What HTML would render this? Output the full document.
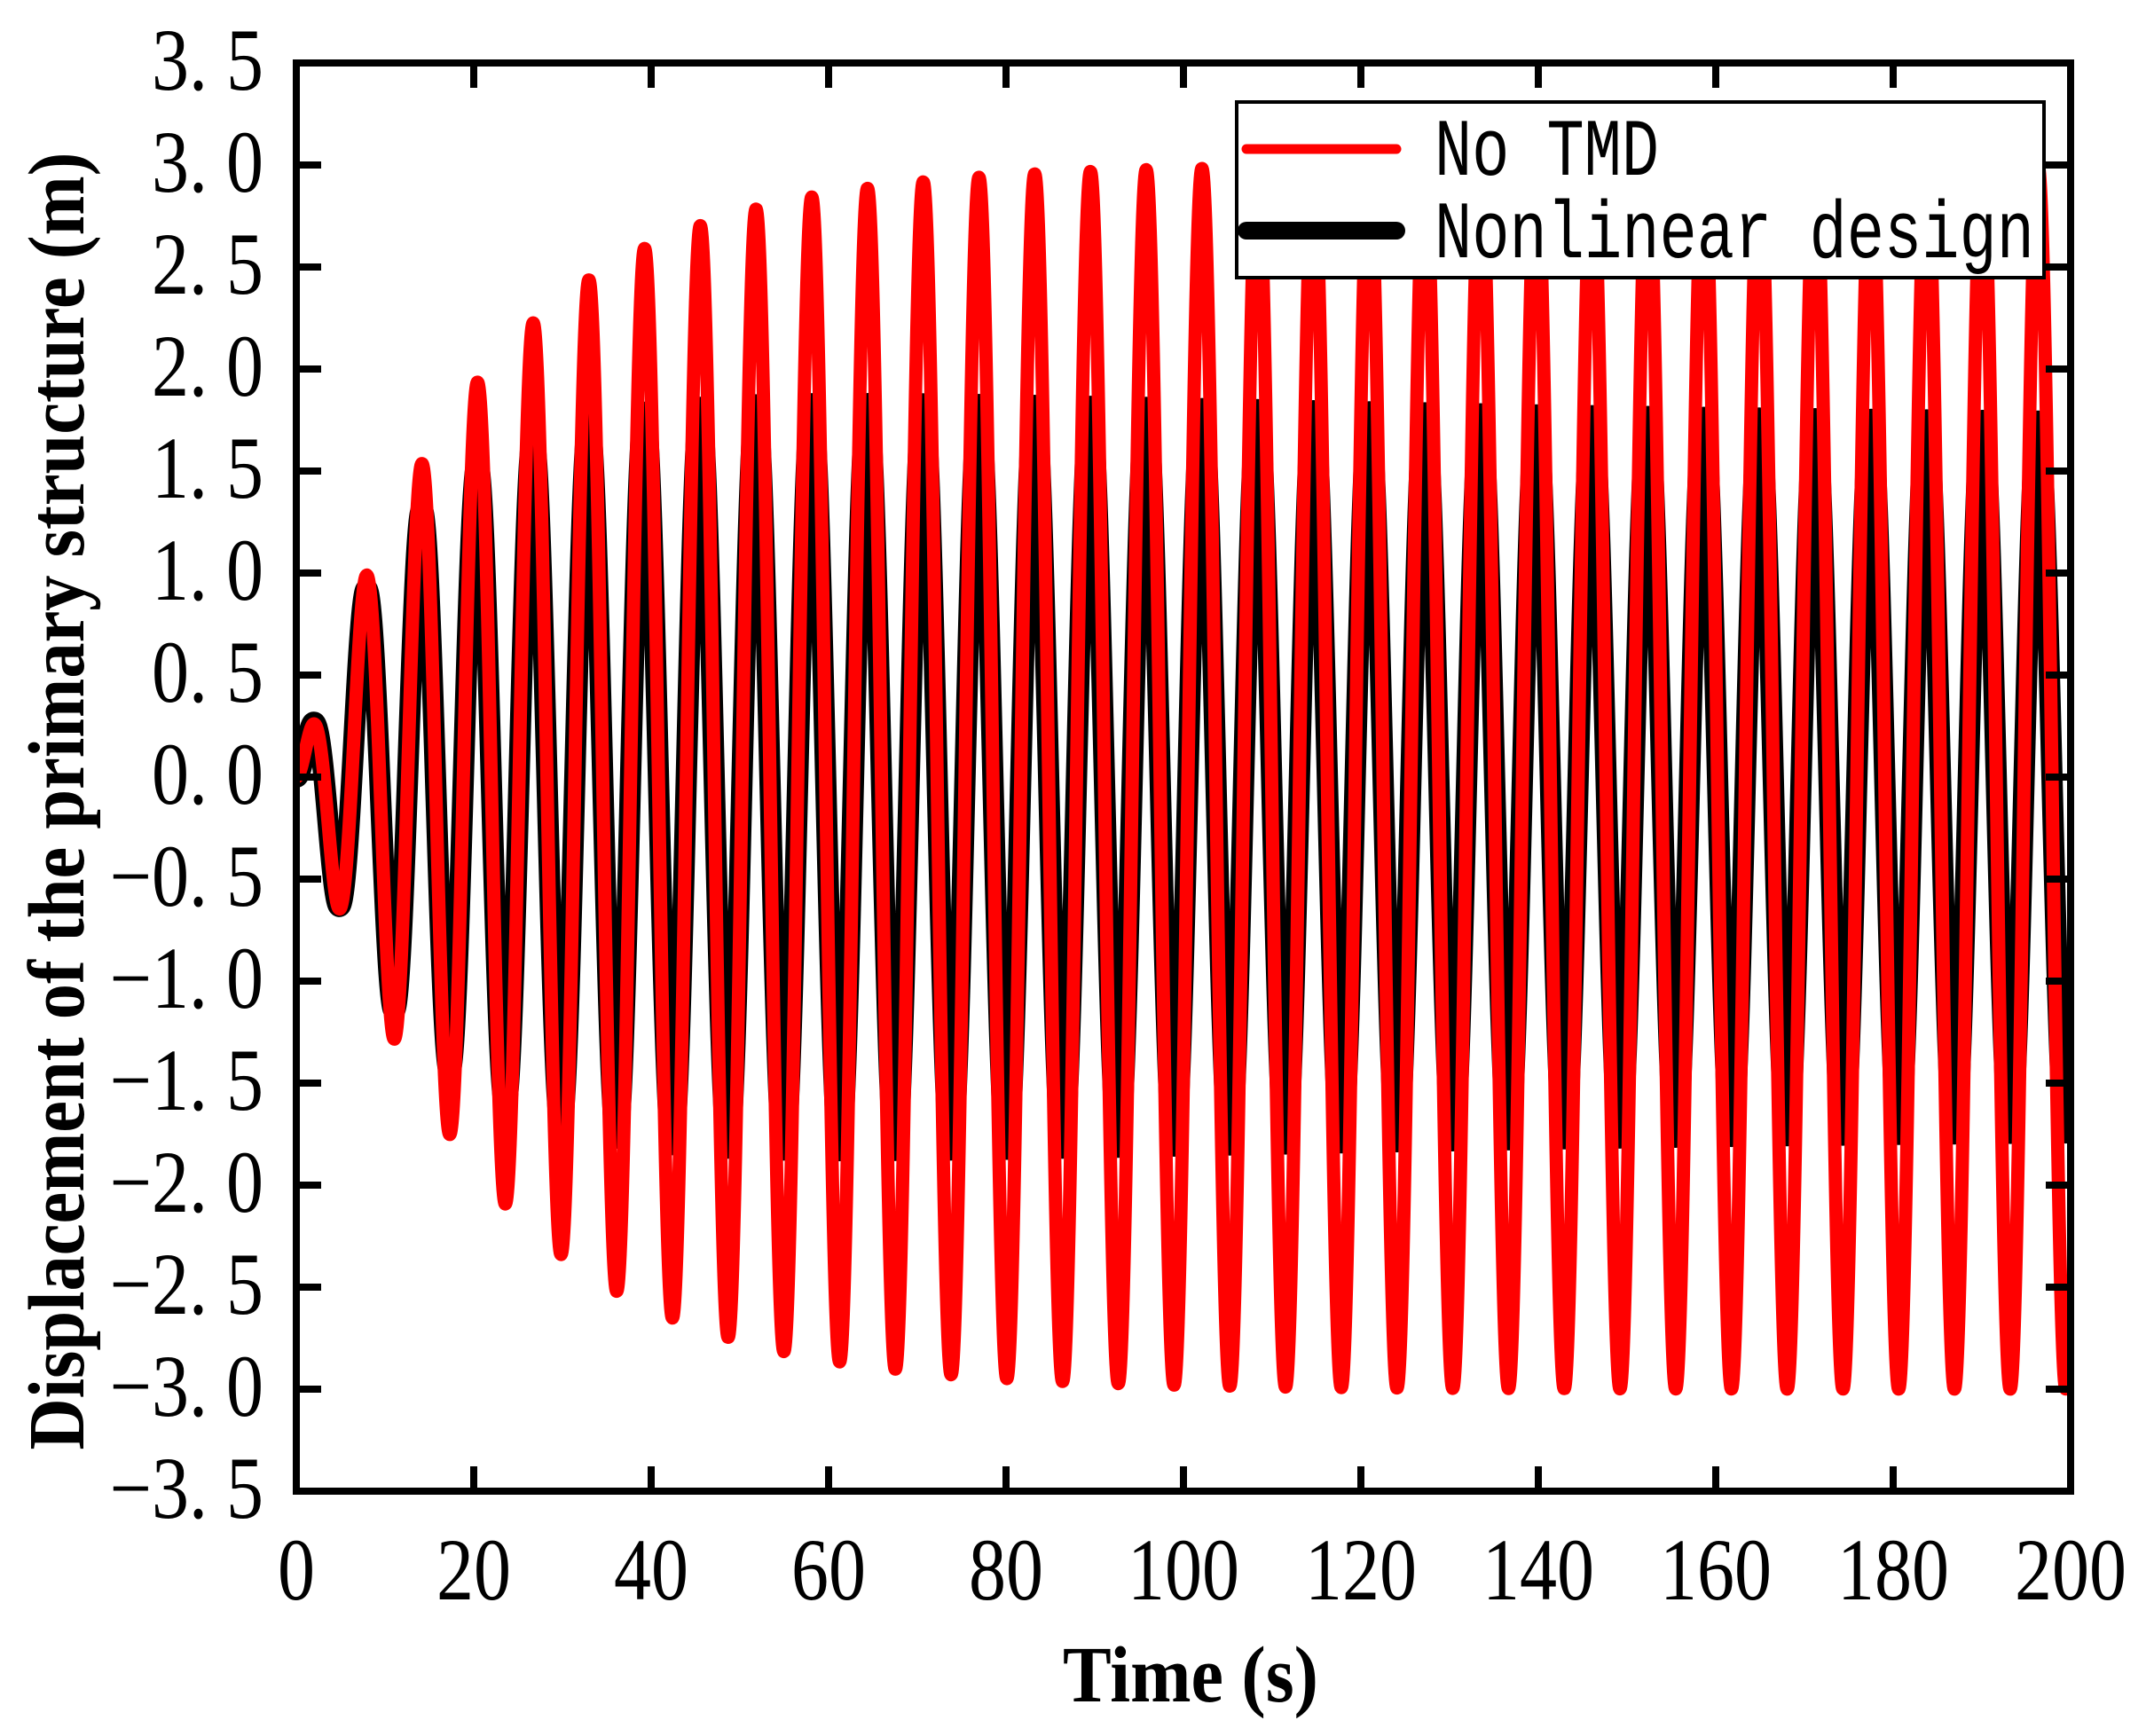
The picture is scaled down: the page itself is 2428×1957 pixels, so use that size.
<!DOCTYPE html>
<html><head><meta charset="utf-8"><style>
html,body{margin:0;padding:0;background:#fff;}
svg{display:block;}
</style></head><body>
<svg id="s" width="2428" height="1957" viewBox="0 0 2428 1957" xmlns="http://www.w3.org/2000/svg">
<defs><clipPath id="c"><rect x="334" y="71" width="2000" height="1610"/></clipPath></defs>
<g clip-path="url(#c)">
<path id="pb" fill="none" stroke="#000" stroke-width="24" stroke-linejoin="round" stroke-linecap="round"/>
<path id="pr" fill="none" stroke="#ff0000" stroke-width="15" stroke-linejoin="round" stroke-linecap="round"/>
</g>
<g id="ticks" stroke="#000" stroke-width="8"></g>
<rect x="334" y="71" width="2000" height="1610" fill="none" stroke="#000" stroke-width="8"/>
<g id="labels" font-family="Liberation Serif, serif" font-size="84" fill="#000"></g>
<text x="1342" y="1918" font-family="Liberation Serif, serif" font-weight="bold" font-size="90" text-anchor="middle" textLength="288" lengthAdjust="spacingAndGlyphs">Time (s)</text>
<text transform="translate(94,903) rotate(-90)" font-family="Liberation Serif, serif" font-weight="bold" font-size="90" text-anchor="middle" textLength="1463" lengthAdjust="spacingAndGlyphs">Displacement of the primary structure (m)</text>
<rect x="1394" y="115" width="910" height="198" fill="#fff" stroke="#000" stroke-width="4"/>
<line x1="1405" y1="168" x2="1574" y2="168" stroke="#ff0000" stroke-width="11" stroke-linecap="round"/>
<line x1="1405" y1="260" x2="1574" y2="260" stroke="#000" stroke-width="20" stroke-linecap="round"/>
<text transform="translate(1617,197) scale(1,1.15)" font-family="Liberation Mono, monospace" font-size="80" textLength="253" lengthAdjust="spacingAndGlyphs">No TMD</text>
<text transform="translate(1617,290) scale(1,1.15)" font-family="Liberation Mono, monospace" font-size="80" textLength="676" lengthAdjust="spacingAndGlyphs">Nonlinear design</text>
</svg>
<script>
var X=function(t){return 334+t*10;},Y=function(v){return 71+(3.5-v)*230;};
var r="",b="";
for(var i=0;i<=4000;i++){var t=i*0.05;
var er=3*(1-Math.exp(-t/19.7));
var eb=1.72*(1-Math.exp(-t/11))+0.12*(t/50)*Math.exp(1-t/50);
var c=Math.cos(t-1.55);
r+=(i?"L":"M")+X(t).toFixed(1)+","+Y(er*c).toFixed(1);
b+=(i?"L":"M")+X(t).toFixed(1)+","+Y(eb*c).toFixed(1);}
document.getElementById("pr").setAttribute("d",r);
document.getElementById("pb").setAttribute("d",b);
var tk="",lb="";
for(var k=0;k<=10;k++){var x=334+k*200;
tk+='<line x1="'+x+'" y1="1681" x2="'+x+'" y2="1653"/><line x1="'+x+'" y1="71" x2="'+x+'" y2="99"/>';
lb+='<text transform="translate('+x+',1803) scale(1,1.18)" text-anchor="middle">'+(k*20)+'</text>';}
for(var k=0;k<=14;k++){var v=3.5-k*0.5,y=71+k*115;
tk+='<line x1="334" y1="'+y+'" x2="362" y2="'+y+'"/><line x1="2334" y1="'+y+'" x2="2306" y2="'+y+'"/>';
var s=Math.abs(v).toFixed(1).replace(".",". ");
if(v<0)s="\u2212"+s;
lb+='<text transform="translate(297,'+(y+30)+') scale(1,1.18)" text-anchor="end">'+s+'</text>';}
document.getElementById("ticks").innerHTML=tk;
document.getElementById("labels").innerHTML=lb;
</script>
</body></html>
